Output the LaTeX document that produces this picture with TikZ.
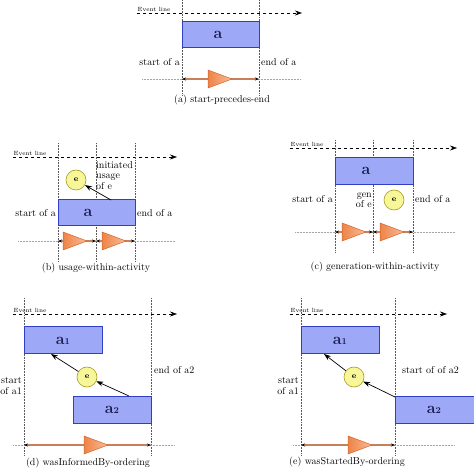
\documentclass[tikz,border=0pt]{standalone}
\usetikzlibrary{arrows.meta}
\definecolor{actfill}{HTML}{9DA9F7}
\definecolor{actdraw}{HTML}{2F3FC8}
\definecolor{entfill}{HTML}{F7F79A}
\definecolor{entdraw}{HTML}{A89A20}
\definecolor{trilight}{HTML}{F9BC98}
\definecolor{tridark}{HTML}{EE8448}
\definecolor{tridraw}{HTML}{D0642A}
\definecolor{oline}{HTML}{C8805A}
\definecolor{navy}{HTML}{1C1C50}
\tikzset{
 act/.style={draw=actdraw, fill=actfill, line width=1pt, minimum width=77pt, minimum height=26pt, inner sep=0pt},
 acttext/.style={font=\fontsize{16}{16}\selectfont\bfseries, text=navy, inner sep=0pt},
 ent/.style={circle, draw=entdraw, fill=entfill, line width=0.6pt, minimum size=20pt, inner sep=0pt, font=\fontsize{8}{8}\selectfont\bfseries},
 lbl/.style={font=\fontsize{10}{11}\selectfont, inner sep=1pt},
 evt/.style={font=\fontsize{6}{6}\selectfont, inner sep=0.5pt, anchor=south west},
 evline/.style={dashed, line width=0.6pt, -{Stealth[length=7pt,width=5pt]}},
 vdot/.style={densely dotted, black!65, line width=0.55pt},
 hdot/.style={densely dotted, black!35, line width=0.5pt},
 spanline/.style={oline, line width=1.1pt, {Stealth[black,length=4pt,width=3pt]}-{Stealth[black,length=4pt,width=3pt]}},
 usearr/.style={-{Stealth[length=7pt,width=5pt]}, line width=0.7pt},
 orangetri/.pic={\shadedraw[draw=tridraw, line width=0.5pt, left color=tridark, right color=trilight] (0,-9) -- (24,0) -- (0,9) -- cycle;},
}
\begin{document}
\begin{tikzpicture}[x=1pt,y=-1pt]
\useasboundingbox (0,0) rectangle (474,470);
% ---------- (a)
\node[evt] (evA) at (137,12) {Event line};
\coordinate (evAs) at (137,13); \coordinate (evAe) at (302,13);
\draw[evline] (evAs) -- (evAe);
\coordinate (aL1) at (182,0); \coordinate (aL2) at (182,96);
\coordinate (aR1) at (259,0); \coordinate (aR2) at (259,96);
\draw[vdot] (aL1) -- (aL2); \draw[vdot] (aR1) -- (aR2);
\node[act] (A) at (220.5,35) {};
\node[acttext] (Atxt) at (218,35) {a};
\node[lbl, anchor=east] (Astart) at (181,62) {start of a};
\node[lbl, anchor=west] (Aend) at (260,62) {end of a};
\coordinate (aH1) at (142,79); \coordinate (aH2) at (300,79);
\draw[hdot] (aH1) -- (aH2);
\coordinate (aS1) at (182,79); \coordinate (aS2) at (259,79);
\draw[spanline] (aS1) -- (aS2);
\pic at (208,79) {orangetri};
\node[lbl] (Acap) at (222,100) {(a) start-precedes-end};
% ---------- (b)
\node[evt] (evB) at (13,156) {Event line};
\coordinate (evBs) at (13,157); \coordinate (evBe) at (177,157);
\draw[evline] (evBs) -- (evBe);
\foreach \x [count=\i] in {58,96,135}{
  \coordinate (bV\i a) at (\x,143); \coordinate (bV\i b) at (\x,262);
  \draw[vdot] (bV\i a) -- (bV\i b);}
\node[act] (B) at (96.5,213) {};
\node[acttext] (Btxt) at (88,213) {a};
\node[ent] (eB) at (76,180) {e};
\node[lbl, anchor=north west, align=left, font=\fontsize{10}{10.5}\selectfont] (Buse) at (95,160) {initiated\\usage\\of e};
\coordinate (bArr) at (111,200);
\draw[usearr] (bArr) -- (eB);
\node[lbl, anchor=east] (Bstart) at (57,213) {start of a};
\node[lbl, anchor=west] (Bend) at (136,213) {end of a};
\coordinate (bH1) at (18,241); \coordinate (bH2) at (175,241);
\draw[hdot] (bH1) -- (bH2);
\coordinate (bS1) at (58,241); \coordinate (bS2) at (96,241); \coordinate (bS3) at (135,241);
\draw[spanline] (bS1) -- (bS2);
\draw[spanline] (bS2) -- (bS3);
\pic at (63,241) {orangetri};
\pic at (102,241) {orangetri};
\node[lbl] (Bcap) at (96,268) {(b) usage-within-activity};
% ---------- (c)
\node[evt] (evC) at (290,147) {Event line};
\coordinate (evCs) at (290,148); \coordinate (evCe) at (457,148);
\draw[evline] (evCs) -- (evCe);
\foreach \x [count=\i] in {335,373,413}{
  \coordinate (cV\i a) at (\x,140); \coordinate (cV\i b) at (\x,252);
  \draw[vdot] (cV\i a) -- (cV\i b);}
\node[act, minimum width=78pt, minimum height=27pt] (C) at (374,171.5) {};
\node[acttext] (Ctxt) at (366,171) {a};
\node[lbl, anchor=east] (Cstart) at (334,199) {start of a};
\node[lbl, anchor=east, align=right, font=\fontsize{10}{9}\selectfont] (Cgen) at (373,200) {gen\\of e};
\node[ent] (eC) at (394,200) {e};
\node[lbl, anchor=west] (Cend) at (414,199) {end of a};
\coordinate (cH1) at (295,232); \coordinate (cH2) at (455,232);
\draw[hdot] (cH1) -- (cH2);
\coordinate (cS1) at (335,232); \coordinate (cS2) at (373,232); \coordinate (cS3) at (413,232);
\draw[spanline] (cS1) -- (cS2);
\draw[spanline] (cS2) -- (cS3);
\pic at (342,232) {orangetri};
\pic at (380,232) {orangetri};
\node[lbl] (Ccap) at (375,267) {(c) generation-within-activity};
% ---------- (d)
\node[evt] (evD) at (13,313) {Event line};
\coordinate (evDs) at (13,314); \coordinate (evDe) at (177,314);
\draw[evline] (evDs) -- (evDe);
\coordinate (dV1a) at (24,298); \coordinate (dV1b) at (24,456);
\coordinate (dV2a) at (151,298); \coordinate (dV2b) at (151,456);
\draw[vdot] (dV1a) -- (dV1b); \draw[vdot] (dV2a) -- (dV2b);
\node[act, minimum width=78pt, minimum height=27pt] (D1) at (63,340.5) {};
\node[acttext] (D1txt) at (63,341) {a{\fontsize{9}{9}\selectfont 1}};
\node[act, minimum width=78pt, minimum height=27pt] (D2) at (112,409.5) {};
\node[acttext] (D2txt) at (112,410) {a{\fontsize{9}{9}\selectfont 2}};
\node[ent] (eD) at (87,377) {e};
\coordinate (dA) at (129,396); \coordinate (dB) at (51,354);
\draw[usearr] (dA) -- (eD);
\draw[usearr] (eD) -- (dB);
\node[lbl, anchor=east, align=right, font=\fontsize{10}{10.5}\selectfont] (Dstart) at (23,386) {start\\of a1};
\node[lbl, anchor=west] (Dend) at (153,370) {end of a2};
\coordinate (dH1) at (13,445); \coordinate (dH2) at (175,445);
\draw[hdot] (dH1) -- (dH2);
\coordinate (dS1) at (24,445); \coordinate (dS2) at (151,445);
\draw[spanline] (dS1) -- (dS2);
\pic at (84,445) {orangetri};
\node[lbl] (Dcap) at (88,463) {(d) wasInformedBy-ordering};
% ---------- (e)
\node[evt] (evE) at (290,313) {Event line};
\coordinate (evEs) at (290,314); \coordinate (evEe) at (447,314);
\draw[evline] (evEs) -- (evEe);
\coordinate (eV1a) at (301,298); \coordinate (eV1b) at (301,456);
\coordinate (eV2a) at (395,298); \coordinate (eV2b) at (395,456);
\draw[vdot] (eV1a) -- (eV1b); \draw[vdot] (eV2a) -- (eV2b);
\node[act, minimum width=78pt, minimum height=27pt] (E1) at (340,340.5) {};
\node[acttext] (E1txt) at (340,341) {a{\fontsize{9}{9}\selectfont 1}};
\node[act, minimum width=82pt, minimum height=27pt] (E2) at (436,410) {};
\node[acttext] (E2txt) at (434,410) {a{\fontsize{9}{9}\selectfont 2}};
\node[ent] (eE) at (354,377) {e};
\coordinate (eA) at (395,397); \coordinate (eB2) at (324,354);
\draw[usearr] (eA) -- (eE);
\draw[usearr] (eE) -- (eB2);
\node[lbl, anchor=east, align=right, font=\fontsize{10}{10.5}\selectfont] (Estart) at (300,386) {start\\of a1};
\node[lbl, anchor=west] (Eend) at (401,370) {start of of a2};
\coordinate (eH1) at (293,445); \coordinate (eH2) at (455,445);
\draw[hdot] (eH1) -- (eH2);
\coordinate (eS1) at (301,445); \coordinate (eS2) at (395,445);
\draw[spanline] (eS1) -- (eS2);
\pic at (348,445) {orangetri};
\node[lbl] (Ecap) at (347,462) {(e) wasStartedBy-ordering};
\end{tikzpicture}
\end{document}
